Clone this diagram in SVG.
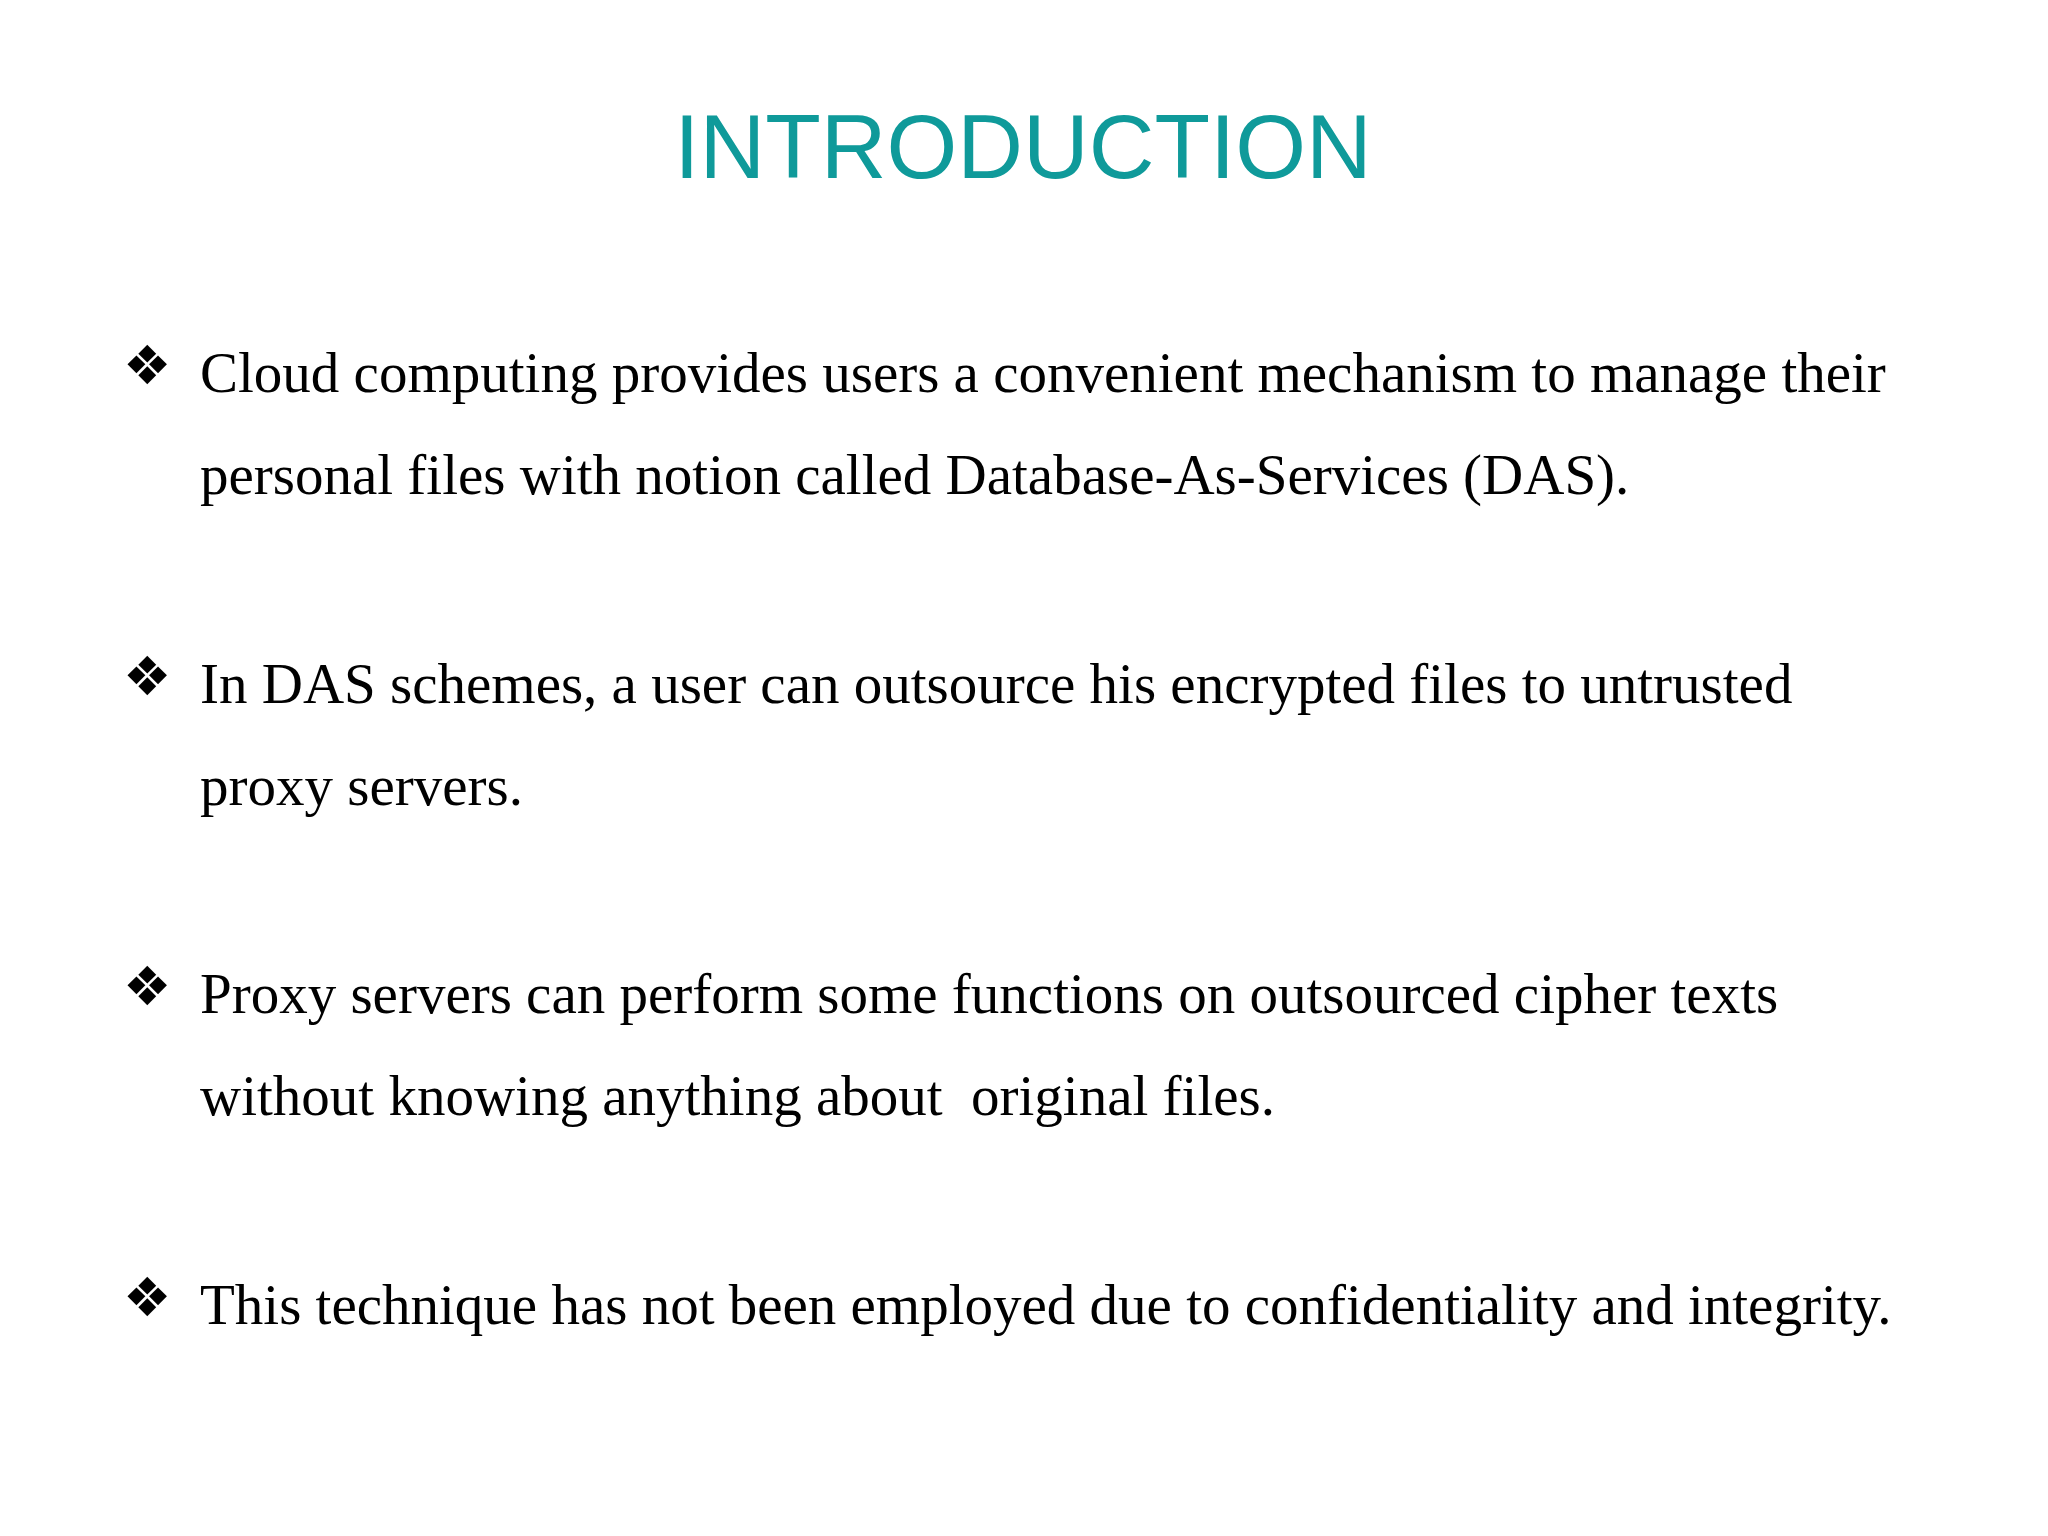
<svg xmlns="http://www.w3.org/2000/svg" width="2048" height="1536" viewBox="0 0 2048 1536">
<style>
.t{font-family:"Liberation Serif",serif;font-size:57px;fill:#000}
.b{font-family:"DejaVu Sans",sans-serif;font-size:54px;fill:#000}
</style>
<rect width="2048" height="1536" fill="#fff"/>
<text x="1023" y="178" text-anchor="middle" font-family="Liberation Sans,sans-serif" font-size="91" fill="#0f9a9a">INTRODUCTION</text>
<g id="b1"><text class="b" x="123" y="384">❖</text>
<text class="t" x="200" y="392">Cloud computing provides users a convenient mechanism to manage their</text>
<text class="t" x="200" y="494">personal files with notion called Database-As-Services (DAS).</text></g>
<g id="b2"><text class="b" x="123" y="695">❖</text>
<text class="t" x="200" y="703">In DAS schemes, a user can outsource his encrypted files to untrusted</text>
<text class="t" x="200" y="805">proxy servers.</text></g>
<g id="b3"><text class="b" x="123" y="1005">❖</text>
<text class="t" x="200" y="1013">Proxy servers can perform some functions on outsourced cipher texts</text>
<text class="t" x="200" y="1115" xml:space="preserve">without knowing anything about  original files.</text></g>
<g id="b4"><text class="b" x="123" y="1316">❖</text>
<text class="t" x="200" y="1324">This technique has not been employed due to confidentiality and integrity.</text></g>
</svg>
